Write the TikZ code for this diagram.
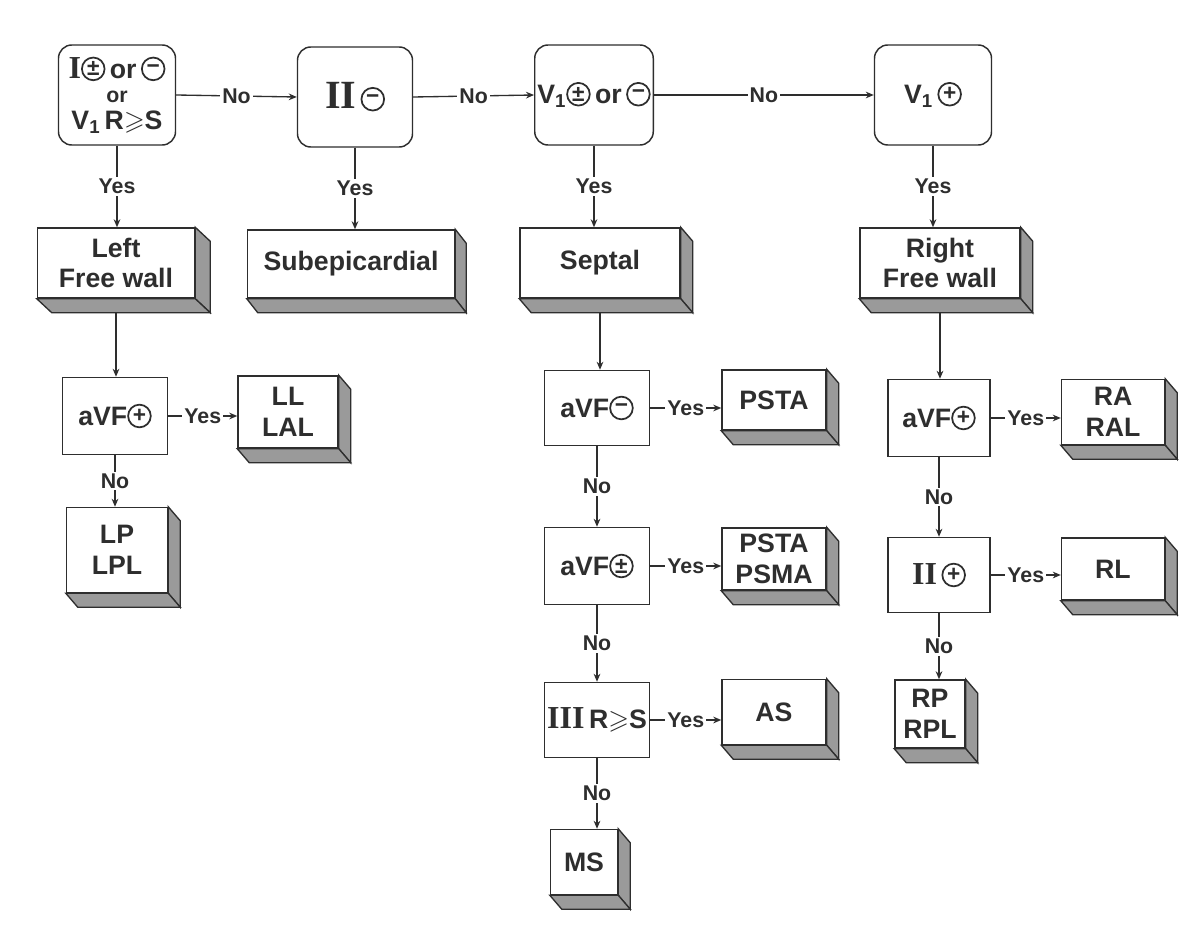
\documentclass[tikz,border=0pt]{standalone}
\usepackage{amssymb}
\usepackage{fontspec}
\setmainfont{Liberation Sans}
\newfontfamily\rmn{Liberation Serif}
\usetikzlibrary{calc,arrows.meta}
\definecolor{ink}{HTML}{2E2E2E}
\definecolor{side}{HTML}{9A9A9A}
\newcommand\cir[1]{\tikz[baseline={([yshift=-0.36em]c.center)}]\node[draw=ink,circle,line width=1.3pt,inner sep=0pt,minimum size=17pt,font=\bfseries\fontsize{17}{17}\selectfont](c){#1};}
\newcommand\RN[1]{{\rmn\bfseries\fontsize{24}{24}\selectfont #1}}
\newcommand\tbox[7]{%
 \node[box,minimum width=#4*0.75pt,minimum height=#5*0.75pt] (#1) at (#2,#3) {#7};
 \draw[face] (#1.north east) -- ++(#6,14) -- ($(#1.south east)+(#6,14)$) -- (#1.south east) -- cycle;
 \draw[face] (#1.south west) -- (#1.south east) -- ++(#6,14) -- ($(#1.south west)+(#6,14)$) -- cycle;
}
\begin{document}
\begin{tikzpicture}[x=0.75pt,y=-0.75pt,
 every node/.style={text=ink,font=\bfseries\fontsize{20}{23}\selectfont},
 box/.style={draw=ink,line width=1.1pt,fill=white,align=center,inner sep=2pt},
 rbox/.style={box,rounded corners=10pt},
 face/.style={draw=ink,line width=1pt,fill=side},
 lab/.style={fill=white,inner sep=1.5pt,font=\bfseries\fontsize{16}{18}\selectfont},
 arr/.style={draw=ink,line width=1pt,-{Stealth[length=6pt,width=5pt]}}]
\fill[white] (0,0) rectangle (1200,938);
% top row
\node[rbox,minimum width=117*0.75pt,minimum height=100*0.75pt] (b1) at (117,95)
 {\RN{I}\cir{±}\,or\,\cir{−}\\[-5pt]{\fontsize{16}{17}\selectfont or}\\[-3pt]V$_{\mathbf 1}$\,R$\geqslant$S};
\node[rbox,minimum width=115*0.75pt,minimum height=100*0.75pt] (b2) at (355,97) {{\rmn\bfseries\fontsize{30}{30}\selectfont II}\,\cir{−}};
\node[rbox,minimum width=118*0.75pt,minimum height=100*0.75pt] (b3) at (594,95) {V$_{\mathbf 1}$\cir{±}\,or\,\cir{−}};
\node[rbox,minimum width=117*0.75pt,minimum height=100*0.75pt] (b4) at (933,95) {V$_{\mathbf 1}$\,\cir{+}};
% second row
\tbox{lfw}{116}{263}{157}{70}{15}{Left\\Free wall}
\tbox{sub}{351}{264}{207}{68}{11}{Subepicardial}
\tbox{sep}{600}{263}{160}{70}{12}{Septal}
\tbox{rfw}{940}{263}{160}{70}{12}{Right\\Free wall}
% left column
\node[box,minimum width=105*0.75pt,minimum height=77*0.75pt] (a1) at (115,416) {aVF\cir{+}};
\tbox{ll}{288}{412}{100}{72}{12}{LL\\LAL}
\tbox{lp}{117}{550}{101}{85}{12}{LP\\LPL}
% middle column
\node[box,minimum width=105*0.75pt,minimum height=75*0.75pt] (m1) at (597,408) {aVF\cir{−}};
\tbox{psta}{774}{400}{104}{60}{12}{PSTA}
\node[box,minimum width=105*0.75pt,minimum height=77*0.75pt] (m2) at (597,566) {aVF\cir{±}};
\tbox{psma}{774}{559}{104}{62}{12}{PSTA\\PSMA}
\node[box,minimum width=105*0.75pt,minimum height=75*0.75pt] (m3) at (597,720) {\RN{III}\,R$\geqslant$S};
\tbox{as}{774}{712}{104}{65}{12}{AS}
\tbox{ms}{584}{862}{67}{65}{12}{MS}
% right column
\node[box,minimum width=102*0.75pt,minimum height=77*0.75pt] (r1) at (939,418) {aVF\cir{+}};
\tbox{ra}{1113}{412}{103}{65}{12}{RA\\RAL}
\node[box,minimum width=102*0.75pt,minimum height=75*0.75pt] (r2) at (939,575) {\RN{II}\,\cir{+}};
\tbox{rl}{1113}{569}{103}{62}{12}{RL}
\tbox{rp}{930}{714}{70}{68}{12}{RP\\RPL}
% connectors: top row
\draw[arr] (b1.east) -- node[lab]{No} (b2.west);
\draw[arr] (b2.east) -- node[lab]{No} (b3.west);
\draw[arr] (b3.east) -- node[lab]{No} (b4.west);
\draw[arr] (b1.south) -- node[lab]{Yes} (b1.south |- lfw.north);
\draw[arr] (b2.south) -- node[lab]{Yes} (b2.south |- sub.north);
\draw[arr] (b3.south) -- node[lab]{Yes} (b3.south |- sep.north);
\draw[arr] (b4.south) -- node[lab]{Yes} (b4.south |- rfw.north);
% second to third
\coordinate (lfwb) at ($(lfw.south)+(0,14)$);
\coordinate (sepb) at ($(sep.south)+(0,14)$);
\coordinate (rfwb) at ($(rfw.south)+(0,14)$);
\draw[arr] (lfwb) -- (lfwb |- a1.north);
\draw[arr] (sepb) -- (sepb |- m1.north);
\draw[arr] (rfwb) -- (rfwb |- r1.north);
% left column
\draw[arr] (a1.east) -- node[lab]{Yes} (a1.east -| ll.west);
\draw[arr] (a1.south) -- node[lab]{No} (a1.south |- lp.north);
% middle
\draw[arr] (m1.east) -- node[lab]{Yes} (m1.east -| psta.west);
\draw[arr] (m1.south) -- node[lab]{No} (m2.north);
\draw[arr] (m2.east) -- node[lab]{Yes} (m2.east -| psma.west);
\draw[arr] (m2.south) -- node[lab]{No} (m3.north);
\draw[arr] (m3.east) -- node[lab]{Yes} (m3.east -| as.west);
\draw[arr] (m3.south) -- node[lab]{No} (m3.south |- ms.north);
% right
\draw[arr] (r1.east) -- node[lab]{Yes} (r1.east -| ra.west);
\draw[arr] (r1.south) -- node[lab]{No} (r2.north);
\draw[arr] (r2.east) -- node[lab]{Yes} (r2.east -| rl.west);
\draw[arr] (r2.south) -- node[lab]{No} (r2.south |- rp.north);
\end{tikzpicture}
\end{document}
